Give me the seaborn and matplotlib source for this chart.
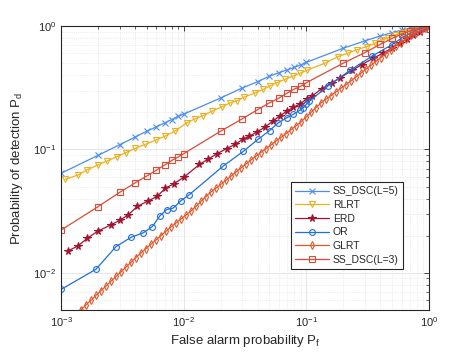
import numpy as np
import pandas as pd
import matplotlib
matplotlib.use("Agg")
import matplotlib.pyplot as plt
import seaborn as sns
from matplotlib.ticker import LogLocator, NullFormatter

# ---------------- data ----------------
grid_pf = [0.001, 0.002, 0.003, 0.004, 0.005, 0.006, 0.007, 0.008, 0.009,
           0.01, 0.02, 0.03, 0.04, 0.05, 0.06, 0.07, 0.08, 0.09,
           0.1, 0.2, 0.3, 0.4, 0.5, 0.6, 0.7, 0.8, 0.9, 1.0]

ss5_pd = [0.064, 0.0895, 0.109, 0.1256, 0.1405, 0.1524, 0.164, 0.1746, 0.1856,
          0.193, 0.261, 0.3145, 0.3535, 0.3917, 0.4195, 0.4416, 0.4627, 0.4846,
          0.5076, 0.661, 0.757, 0.830, 0.883, 0.928, 0.958, 0.987, 0.997, 1.0]

ss3_pd = [0.0222, 0.0343, 0.0448, 0.0534, 0.0609, 0.068, 0.0747, 0.0815, 0.0867,
          0.0923, 0.1405, 0.1768, 0.210, 0.238, 0.261, 0.2866, 0.3087, 0.325,
          0.347, 0.500, 0.609, 0.709, 0.793, 0.862, 0.911, 0.955, 0.982, 1.0]

rlrt_pf = [1.078e-3, 1.383e-3, 1.62e-3, 1.99e-3, 2.38e-3, 2.84e-3, 3.37e-3, 4.01e-3,
           4.84e-3, 5.91e-3, 7.04e-3, 8.49e-3, 0.01058, 0.01236, 0.01445, 0.0169,
           0.0204, 0.0238, 0.0272, 0.031, 0.0381, 0.0446, 0.0505, 0.0575, 0.067,
           0.0782, 0.0887, 0.1006, 0.142, 0.182, 0.219, 0.257, 0.311, 0.363, 0.411,
           0.466, 0.527, 0.598, 0.677, 0.767, 0.871, 1.0]
rlrt_pd = [0.0573, 0.0621, 0.0681, 0.0747, 0.0805, 0.0873, 0.094, 0.1019,
           0.1097, 0.1189, 0.128, 0.1405, 0.164, 0.1768, 0.188, 0.2037,
           0.221, 0.238, 0.248, 0.265, 0.2866, 0.3076, 0.3266, 0.347, 0.370,
           0.393, 0.414, 0.4375, 0.500, 0.5655, 0.6025, 0.6403, 0.681, 0.725, 0.771,
           0.805, 0.846, 0.883, 0.916, 0.951, 0.976, 1.0]

erd_pf = [1.130e-3, 1.383e-3, 1.644e-3, 1.99e-3, 2.555e-3, 3.01e-3, 3.516e-3, 4.18e-3,
          5.09e-3, 6.08e-3, 7.08e-3, 8.29e-3, 0.01015, 0.01345, 0.01587, 0.01868,
          0.0224, 0.0262, 0.0306, 0.034, 0.0393, 0.046, 0.0537, 0.061, 0.0691,
          0.0782, 0.0887, 0.1006, 0.1104, 0.1333, 0.161, 0.188, 0.234, 0.2824,
          0.351, 0.424, 0.4955, 0.579, 0.657, 0.743, 0.843, 0.926, 1.0]
erd_pd = [0.01496, 0.0166, 0.0191, 0.0217, 0.0245, 0.0266, 0.0294, 0.0345,
          0.0381, 0.0416, 0.0485, 0.0525, 0.06, 0.0757, 0.0835, 0.0923,
          0.1015, 0.1097, 0.1215, 0.1273, 0.1378, 0.1518, 0.1703, 0.187, 0.2037,
          0.219, 0.2328, 0.2564, 0.269, 0.3104, 0.345, 0.3787, 0.436, 0.4846,
          0.549, 0.6025, 0.661, 0.725, 0.781, 0.846, 0.899, 0.958, 1.0]

or_pf = [1.0e-3, 1.929e-3, 2.806e-3, 3.72e-3, 4.686e-3, 5.55e-3, 6.41e-3, 7.27e-3,
         8.23e-3, 9.5e-3, 0.01105, 0.021, 0.0306, 0.0405, 0.0502, 0.059,
         0.0691, 0.0782, 0.0887, 0.0946, 0.1002, 0.1056, 0.1508, 0.2265, 0.3425,
         0.4955, 0.6166, 0.743, 0.871, 1.0]
or_pd = [0.00733, 0.0107, 0.0163, 0.0194, 0.0211, 0.0237, 0.029, 0.0326,
         0.0335, 0.0384, 0.0428, 0.0733, 0.0964, 0.121, 0.1423, 0.164,
         0.1803, 0.1926, 0.2083, 0.2182, 0.2328, 0.245, 0.328, 0.436, 0.5695,
         0.703, 0.815, 0.899, 0.958, 1.0]

glrt_pf = [1.455e-3, 1.599e-3, 1.756e-3, 1.928e-3, 2.118e-3, 2.327e-3, 2.555e-3, 2.806e-3,
           3.083e-3, 3.388e-3, 3.72e-3, 4.085e-3, 4.487e-3, 4.93e-3, 5.414e-3, 5.946e-3,
           6.53e-3, 7.175e-3, 7.88e-3, 8.65e-3, 9.5e-3, 0.01044, 0.01147, 0.0126,
           0.01384, 0.0152, 0.0167, 0.01834, 0.02014, 0.02213, 0.0243, 0.02669,
           0.02931, 0.0322, 0.03536, 0.0388, 0.04266, 0.04688, 0.05146, 0.05649,
           0.06209, 0.06821, 0.07491, 0.08222, 0.09036, 0.0993, 0.109, 0.1197,
           0.1315, 0.1445, 0.1587, 0.1742, 0.1914, 0.2103, 0.2309, 0.2535,
           0.2786, 0.306, 0.3361, 0.369, 0.4055, 0.4455, 0.4893, 0.537,
           0.5902, 0.6484, 0.712, 0.7816, 0.859, 0.926, 1.0]
glrt_pd = [0.00503, 0.0055, 0.0060, 0.00656, 0.00717, 0.00782, 0.00855, 0.00935,
           0.0102, 0.01115, 0.0122, 0.0133, 0.0145, 0.01573, 0.01706, 0.0185,
           0.02006, 0.0217, 0.02353, 0.02535, 0.0273, 0.0294, 0.03173, 0.0345,
           0.0379, 0.0415, 0.0451, 0.04855, 0.0522, 0.0562, 0.0607, 0.0655,
           0.0707, 0.0762, 0.0819, 0.0880, 0.0944, 0.1015, 0.1087, 0.1167,
           0.1252, 0.1343, 0.1444, 0.155, 0.167, 0.1825, 0.1992, 0.2177,
           0.2379, 0.2549, 0.2731, 0.292, 0.3127, 0.3344, 0.3588, 0.3858,
           0.4147, 0.4459, 0.4802, 0.5163, 0.5549, 0.5966, 0.6427, 0.6871,
           0.7333, 0.784, 0.8385, 0.8814, 0.925, 0.962, 1.0]

labels = ["SS_DSC(L=5)", "RLRT", "ERD", "OR", "GLRT", "SS_DSC(L=3)"]
x_label = "False alarm probability P$_\\mathregular{f}$"
y_label = "Probability of detection P$_\\mathregular{d}$"

# ---------------- style ----------------
sns.set_theme(style="white")
plt.rcParams["font.family"] = ["Liberation Sans", "DejaVu Sans"]
plt.rcParams["mathtext.fontset"] = "custom"
plt.rcParams["mathtext.rm"] = "Liberation Sans"
plt.rcParams["mathtext.it"] = "Liberation Sans:italic"

fig = plt.figure(figsize=(4.74, 3.55), dpi=100)
ax = fig.add_axes([61 / 474, 1 - 310 / 355, 368 / 474, 284 / 355])

series = [
    (grid_pf, ss5_pd, labels[0], "#4a8ef0", "x", "#4a8ef0"),
    (rlrt_pf, rlrt_pd, labels[1], "#EDB120", "v", "none"),
    (erd_pf, erd_pd, labels[2], "#A2142F", "*", "#A2142F"),
    (or_pf, or_pd, labels[3], "#1f6fdc", "o", "none"),
    (glrt_pf, glrt_pd, labels[4], "#E8562A", "d", "none"),
    (grid_pf, ss3_pd, labels[5], "#DD4A36", "s", "none"),
]

for xs, ys, lab, col, mk, mfc in series:
    df = pd.DataFrame({"Pf": xs, "Pd": ys})
    sns.lineplot(data=df, x="Pf", y="Pd", ax=ax, color=col, marker=mk,
                 markersize=4.2 if mk != "*" else 5.5, markerfacecolor=mfc,
                 markeredgecolor=col, markeredgewidth=0.8, linewidth=0.9,
                 label=lab, sort=False, estimator=None)

ax.set_xscale("log")
ax.set_yscale("log")
ax.set_xlim(1e-3, 1)
ax.set_ylim(0.005, 1)

ax.xaxis.set_major_locator(LogLocator(base=10, numticks=10))
ax.yaxis.set_major_locator(LogLocator(base=10, numticks=10))
ax.xaxis.set_minor_locator(LogLocator(base=10, subs=np.arange(2, 10), numticks=20))
ax.yaxis.set_minor_locator(LogLocator(base=10, subs=np.arange(2, 10), numticks=20))
ax.xaxis.set_minor_formatter(NullFormatter())
ax.yaxis.set_minor_formatter(NullFormatter())

ax.grid(which="major", color="#dcdcdc", linewidth=0.5, linestyle="-")
ax.grid(which="minor", color="#dcdcdc", linewidth=0.5, linestyle=":")
ax.set_axisbelow(True)

for sp in ax.spines.values():
    sp.set_visible(True)
    sp.set_color("#262626")
    sp.set_linewidth(0.8)

ax.tick_params(which="both", direction="in", top=True, right=True,
               colors="#262626", labelsize=8)
ax.tick_params(which="major", length=3.5, width=0.6)
ax.tick_params(which="minor", length=2, width=0.5)

ax.set_xlabel(x_label, fontsize=9.5, color="#262626", labelpad=3)
ax.set_ylabel(y_label, fontsize=9.5, color="#262626", labelpad=6)

leg = ax.legend(loc="lower left", bbox_to_anchor=(0.611, 0.127, 0.332, 0.317),
                mode="expand", fontsize=7.5, frameon=True, fancybox=False,
                edgecolor="#262626", framealpha=1, borderpad=0.4,
                labelspacing=0.35, handlelength=3.2, handletextpad=0.4)
leg.get_frame().set_linewidth(0.8)

fig.savefig("out.png", dpi=100)
